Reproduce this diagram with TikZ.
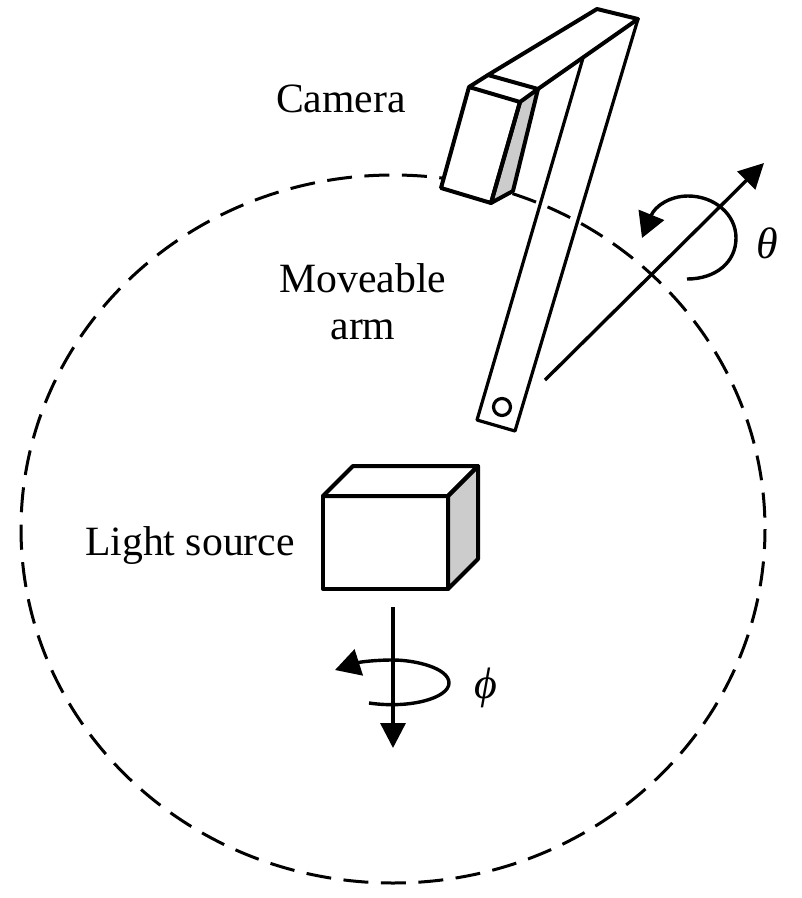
\documentclass[tikz,border=0pt]{standalone}
\usepackage{fontspec}
\setmainfont{Liberation Serif}
\usetikzlibrary{arrows.meta}
\tikzset{
  label text/.style={font=\fontsize{41.7}{47}\selectfont, inner sep=0pt, align=center, text=black},
  symbol text/.style={font=\fontsize{44}{47}\selectfont\itshape, inner sep=0pt, text=black},
  thin edge/.style={draw=black, line width=3.2pt, line join=round},
  box edge/.style={draw=black, line width=4pt, line join=round},
  axis/.style={draw=black, line width=3.4pt, -{Triangle[length=25pt,width=25pt]}},
  turn/.style={draw=black, line width=3.4pt, -{Triangle[length=25pt,width=27pt]}},
  shaded face/.style={fill=black!20},
  orbit/.style={draw=black, line width=3pt, dash pattern=on 25pt off 12.5pt, dash phase=5pt}
}
\begin{document}
\begin{tikzpicture}[x=1pt,y=-1pt]
\useasboundingbox (0,0) rectangle (802,898);
% dashed orbit
\draw[orbit] (393,529) ellipse [x radius=372, y radius=354];
% moveable arm
\coordinate (armTopBackL) at (597,9);
\coordinate (armTopBackR) at (638,19);
\coordinate (armTopFrontL) at (488,75);
\coordinate (armTopFrontR) at (538,89);
\coordinate (armInnerTop) at (583,58);
\coordinate (armFootL) at (477,420);
\coordinate (armFootR) at (515,431);
\draw[thin edge] (armInnerTop) -- (armFootL) -- (armFootR) -- (armTopBackR);
\draw[thin edge] (502,407) circle [radius=8.5];
% camera
\coordinate (camA) at (469,87);
\coordinate (camB) at (520,102);
\coordinate (camC) at (491,203);
\coordinate (camD) at (441,188);
\coordinate (camE) at (538,89);
\coordinate (camF) at (513,191);
\fill[white] (camA) -- (armTopFrontL) -- (camE) -- (camF) -- (camC) -- (camD) -- cycle;
\draw[box edge, shaded face] (camB) -- (camE) -- (camF) -- (camC) -- cycle;
\draw[box edge] (camA) -- (camB) -- (camC) -- (camD) -- cycle;
\draw[box edge] (camA) -- (armTopFrontL);
\draw[box edge] (armTopFrontL) -- (armTopBackL) -- (armTopBackR) -- (armTopFrontR) -- cycle;
% light source
\coordinate (lsA) at (323,496);
\coordinate (lsB) at (448,496);
\coordinate (lsC) at (448,589);
\coordinate (lsD) at (323,589);
\coordinate (lsE) at (353,466);
\coordinate (lsF) at (478,466);
\coordinate (lsG) at (478,559);
\draw[box edge, shaded face] (lsB) -- (lsF) -- (lsG) -- (lsC) -- cycle;
\draw[box edge] (lsA) -- (lsE) -- (lsF) -- (lsB) -- cycle;
\draw[box edge] (lsA) -- (lsB) -- (lsC) -- (lsD) -- cycle;
% theta axis
\coordinate (thetaStart) at (545,380);
\coordinate (thetaEnd) at (764,163);
\draw[axis] (thetaStart) -- (thetaEnd);
\coordinate (thetaTurnStart) at (687,279);
\coordinate (thetaTurnEnd) at (642,238);
\draw[turn] (thetaTurnStart) .. controls (716,279) and (736,262) .. (736,238)
  .. controls (736,214) and (714,196) .. (688,196)
  .. controls (670,196) and (655,206) .. (thetaTurnEnd);
% phi axis
\coordinate (phiStart) at (393,607);
\coordinate (phiEnd) at (393,748);
\draw[axis] (phiStart) -- (phiEnd);
\coordinate (phiTurnStart) at (369,703);
\coordinate (phiTurnEnd) at (335,670);
\draw[turn] (phiTurnStart) .. controls (410,709) and (449,698) .. (449,683)
  .. controls (449,668) and (415,660) .. (393,660)
  .. controls (375,660) and (360,662) .. (phiTurnEnd);
% labels
\node[label text] (camera) at (341,99) {Camera};
\node[label text] (arm) at (363,302) {Moveable\\arm};
\node[label text] (light) at (190,546) {Light source};
\node[symbol text] (theta) at (767,243) {θ};
\node[symbol text] (phi) at (486,688) {ϕ};
\end{tikzpicture}
\end{document}
